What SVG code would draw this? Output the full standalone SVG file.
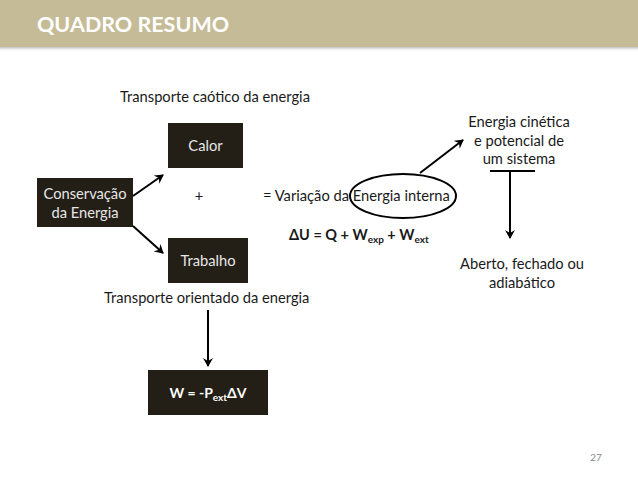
<svg xmlns="http://www.w3.org/2000/svg" width="638" height="479" viewBox="0 0 638 479">
<defs>
<linearGradient id="sh" x1="0" y1="0" x2="0" y2="1"><stop offset="0" stop-color="#999" stop-opacity="0.6"/><stop offset="1" stop-color="#fff" stop-opacity="0"/></linearGradient>
<marker id="ah" markerWidth="10" markerHeight="10" refX="8" refY="5" orient="auto" markerUnits="userSpaceOnUse"><path d="M0,0 L9,5 L0,10 L3,5 Z" fill="#000"/></marker>
<style>
.t{font-family:Lato,"Open Sans",sans-serif;font-size:14.7px;fill:#1a1a1a}
.b{fill:#231e16}
.bt{font-family:Lato,"Open Sans",sans-serif;font-size:14.7px;fill:#e6e6e6;text-anchor:middle}
.ln{stroke:#000;stroke-width:2;fill:none}
</style>
</defs>
<rect width="638" height="479" fill="#fff"/>
<rect x="0" y="0" width="638" height="47" fill="#c5bb97"/>
<rect x="0" y="47" width="638" height="5" fill="url(#sh)"/>
<text x="37" y="32" font-family="Lato,'Open Sans',sans-serif" font-size="21.5" font-weight="bold" fill="#fff">QUADRO RESUMO</text>
<g id="txt-caotico"><text class="t" x="120" y="102">Transporte caótico da energia</text></g>
<g id="calor"><rect class="b" x="168" y="123" width="75" height="45"/><text class="bt" x="205.5" y="151">Calor</text></g>
<g id="conservacao"><rect class="b" x="37" y="178" width="96" height="49"/><text class="bt" x="85" y="199">Conservação</text><text class="bt" x="85" y="218">da Energia</text></g>
<g id="trabalho"><rect class="b" x="168" y="238" width="80" height="45"/><text class="bt" x="208" y="266">Trabalho</text></g>
<g id="plus"><text class="t" x="199" y="201" text-anchor="middle">+</text></g>
<g id="variacao"><text class="t" x="263" y="201">= Variação da Energia interna</text><ellipse cx="403" cy="196" rx="53" ry="22" class="ln" stroke-width="1.5"/></g>
<g id="deltau"><text x="289" y="240" font-family="Lato,'Open Sans',sans-serif" font-size="14.5" font-weight="bold" fill="#1a1a1a">ΔU = Q + W<tspan font-size="10" dy="3">exp</tspan><tspan dy="-3"> + W</tspan><tspan font-size="10" dy="3">ext</tspan></text></g>
<g id="cinetica"><text class="t" text-anchor="middle" x="519" y="127">Energia cinética</text><text class="t" text-anchor="middle" x="519" y="146">e potencial de</text><text class="t" text-anchor="middle" x="519" y="164">um sistema</text></g>
<g id="aberto"><text class="t" text-anchor="middle" x="522" y="269">Aberto, fechado ou</text><text class="t" text-anchor="middle" x="522" y="288">adiabático</text></g>
<g id="txt-orientado"><text class="t" x="104" y="303">Transporte orientado da energia</text></g>
<g id="w"><rect class="b" x="148" y="370" width="120" height="45"/><text x="208" y="398" font-family="Lato,'Open Sans',sans-serif" font-size="14" font-weight="bold" fill="#fff" text-anchor="middle">W = -P<tspan font-size="10" dy="3">ext</tspan><tspan dy="-3">ΔV</tspan></text></g>
<g id="connectors">
<line class="ln" x1="133" y1="196" x2="163" y2="175" marker-end="url(#ah)"/>
<line class="ln" x1="133" y1="226" x2="163" y2="253" marker-end="url(#ah)"/>
<line class="ln" x1="420" y1="173" x2="463" y2="140" marker-end="url(#ah)"/>
<line class="ln" x1="490" y1="171" x2="535" y2="171"/>
<line class="ln" x1="510" y1="171" x2="510" y2="238" marker-end="url(#ah)"/>
<line class="ln" x1="208" y1="310" x2="208" y2="366" marker-end="url(#ah)"/>
</g>
<text x="596" y="461" font-family="Lato,'Open Sans',sans-serif" font-size="10" fill="#888" text-anchor="middle">27</text>
</svg>
